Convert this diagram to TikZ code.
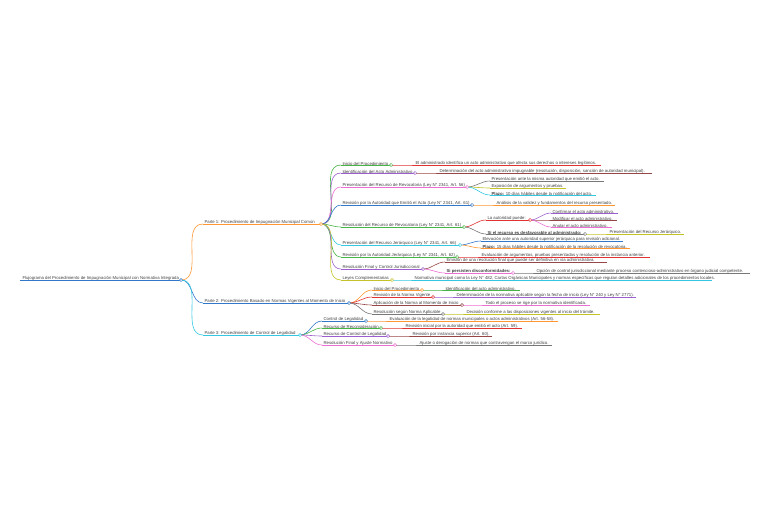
\documentclass[tikz,border=0pt]{standalone}
\usepackage{fontspec}
\setmainfont{Liberation Sans}
\begin{document}
\begin{tikzpicture}[x=1pt,y=-1pt]
\definecolor{cOr}{RGB}{255,150,50}
\definecolor{cBl}{RGB}{50,120,200}
\definecolor{cCy}{RGB}{50,200,225}
\definecolor{cGr}{RGB}{70,180,70}
\definecolor{cPu}{RGB}{155,95,205}
\definecolor{cBr}{RGB}{150,70,70}
\definecolor{cMa}{RGB}{235,110,210}
\definecolor{cGy}{RGB}{120,120,120}
\definecolor{cOl}{RGB}{195,195,40}
\definecolor{cRe}{RGB}{225,50,50}
\tikzset{txt/.style={font=\fontsize{4.3}{5}\selectfont,text=black!75,inner sep=0.3pt,anchor=south west},
 uline/.style={line width=0.9pt},
 conn/.style={line width=0.6pt},
 knob/.style={circle,fill=white,line width=0.5pt,inner sep=0,minimum size=3.2pt}}
\useasboundingbox (0,0) rectangle (768,511);
\newcommand\mroot[5]{% name x1 x2 y color text
 \coordinate (#1s) at (#2,#4); \coordinate (#1e) at (#3,#4);
 \draw[uline,#5] (#1s) -- (#1e);}
\newcommand\mnode[7]{% name parent x1 x2 y color text
 \coordinate (#1s) at (#3,#5); \coordinate (#1e) at (#4,#5);
 \draw[conn,#6] (#2e) to[out=0,in=180] (#1s);
 \draw[uline,#6] (#1s) -- (#1e);
 \node[txt] (#1t) at ([xshift=1pt,yshift=-1.2pt]#1s) {#7};}
\newcommand\knob[2]{\node[knob,draw=#2] at (#1e) {};}
% root
\mroot{r}{20}{181}{280}{cBl}
\node[txt] (rt) at ([xshift=2pt,yshift=-1.2pt]rs) {Flujograma del Procedimiento de Impugnación Municipal con Normativa Integrada};
% Part 1
\mnode{a}{r}{203}{321}{224}{cOr}{Parte 1: Procedimiento de Impugnación Municipal Común}
\mnode{a1}{a}{341}{391}{165}{cGr}{Inicio del Procedimiento}
\mnode{a1a}{a1}{414}{601}{165}{cRe}{El administrado identifica un acto administrativo que afecta sus derechos o intereses legítimos.}
\mnode{a2}{a}{341}{415}{173}{cPu}{Identificación del Acto Administrativo}
\mnode{a2a}{a2}{438}{652}{173}{cBr}{Determinación del acto administrativo impugnable (resolución, disposición, sanción de autoridad municipal).}
\mnode{a3}{a}{341}{467}{187}{cMa}{Presentación del Recurso de Revocatoria (Ley N° 2341, Art. 56)}
\mnode{a3a}{a3}{490}{604}{181}{cGy}{Presentación ante la misma autoridad que emitió el acto.}
\mnode{a3b}{a3}{490}{566}{188}{cOl}{Exposición de argumentos y pruebas.}
\mnode{a3c}{a3}{490}{596}{195}{cCy}{\textbf{Plazo:} 10 días hábiles desde la notificación del acto.}
\mnode{a4}{a}{341}{472}{205}{cBl}{Revisión por la Autoridad que Emitió el Acto (Ley N° 2341, Art. 61)}
\mnode{a4a}{a4}{495}{615}{205}{cOr}{Análisis de la validez y fundamentos del recurso presentado.}
\mnode{a5}{a}{341}{464}{227}{cGr}{Resolución del Recurso de Revocatoria (Ley N° 2341, Art. 61)}
\mnode{a5a}{a5}{486}{530}{220}{cRe}{La autoridad puede:}
\mnode{a5a1}{a5a}{551}{618}{213}{cPu}{Confirmar el acto administrativo.}
\mnode{a5a2}{a5a}{551}{617}{220}{cBr}{Modificar el acto administrativo.}
\mnode{a5a3}{a5a}{551}{612}{227}{cMa}{Anular el acto administrativo.}
\mnode{a5b}{a5}{486}{585}{234}{cGy}{\textbf{Si el recurso es desfavorable al administrado:}}
\mnode{a5b1}{a5b}{608}{684}{234}{cOl}{Presentación del Recurso Jerárquico.}
\mnode{a6}{a}{341}{460}{245}{cCy}{Presentación del Recurso Jerárquico (Ley N° 2341, Art. 66)}
\mnode{a6a}{a6}{481}{623}{241}{cBl}{Elevación ante una autoridad superior jerárquica para revisión adicional.}
\mnode{a6b}{a6}{481}{630}{248}{cOr}{\textbf{Plazo:} 15 días hábiles desde la notificación de la resolución de revocatoria.}
\mnode{a7}{a}{341}{457}{257}{cGr}{Revisión por la Autoridad Jerárquica (Ley N° 2341, Art. 62)}
\mnode{a7a}{a7}{480}{650}{257}{cRe}{Evaluación de argumentos, pruebas presentadas y resolución de la instancia anterior.}
\mnode{a8}{a}{341}{423}{269}{cPu}{Resolución Final y Control Jurisdiccional}
\mnode{a8a}{a8}{445}{607}{262}{cBr}{Emisión de una resolución final que puede ser definitiva en vía administrativa.}
\mnode{a8b}{a8}{445}{513}{273}{cMa}{\textbf{Si persisten disconformidades:}}
\mnode{a8b1}{a8b}{535}{750}{273}{cGy}{Opción de control jurisdiccional mediante proceso contencioso-administrativo en órgano judicial competente.}
\mnode{a9}{a}{341}{392}{280}{cOl}{Leyes Complementarias}
\mnode{a9a}{a9}{413}{712}{280}{cCy}{Normativa municipal como la Ley N° 482, Cartas Orgánicas Municipales y normas específicas que regulan detalles adicionales de los procedimientos locales.}
% Part 2
\mnode{b}{r}{203}{349}{303}{cBl}{Parte 2: Procedimiento Basado en Normas Vigentes al Momento de Inicio}
\mnode{b1}{b}{372}{422}{290}{cOr}{Inicio del Procedimiento}
\mnode{b1a}{b1}{444}{520}{290}{cGr}{Identificación del acto administrativo.}
\mnode{b2}{b}{372}{433}{297}{cRe}{Revisión de la Norma Vigente}
\mnode{b2a}{b2}{455}{636}{297}{cPu}{Determinación de la normativa aplicable según la fecha de inicio (Ley N° 240 y Ley N° 2771).}
\mnode{b3}{b}{372}{462}{305}{cBr}{Aplicación de la Norma al Momento de Inicio}
\mnode{b3a}{b3}{484}{590}{305}{cMa}{Todo el proceso se rige por la normativa identificada.}
\mnode{b4}{b}{372}{443}{314}{cGy}{Resolución según Norma Aplicable}
\mnode{b4a}{b4}{465}{600}{314}{cOl}{Decisión conforme a las disposiciones vigentes al inicio del trámite.}
% Part 3
\mnode{c}{r}{203}{300}{335}{cCy}{Parte 3: Procedimiento de Control de Legalidad}
\mnode{c1}{c}{322}{366}{321}{cBl}{Control de Legalidad}
\mnode{c1a}{c1}{388}{558}{321}{cOr}{Evaluación de la legalidad de normas municipales o actos administrativos (Art. 56-58).}
\mnode{c2}{c}{322}{381}{328}{cGr}{Recurso de Reconsideración}
\mnode{c2a}{c2}{404}{522}{328}{cRe}{Revisión inicial por la autoridad que emitió el acto (Art. 59).}
\mnode{c3}{c}{322}{388}{336}{cPu}{Recurso de Control de Legalidad}
\mnode{c3a}{c3}{411}{492}{336}{cBr}{Revisión por instancia superior (Art. 60).}
\mnode{c4}{c}{322}{395}{345}{cMa}{Resolución Final y Ajuste Normativo}
\mnode{c4a}{c4}{418}{552}{345}{cGy}{Ajuste o derogación de normas que contravengan el marco jurídico.}
% knobs
\knob{r}{cBl}\knob{a}{cOr}\knob{b}{cBl}\knob{c}{cCy}
\knob{a1}{cGr}\knob{a2}{cPu}\knob{a3}{cMa}\knob{a4}{cBl}\knob{a5}{cGr}
\knob{a5a}{cRe}\knob{a5b}{cGy}\knob{a6}{cCy}\knob{a7}{cGr}\knob{a8}{cPu}\knob{a8b}{cMa}\knob{a9}{cOl}
\knob{b1}{cOr}\knob{b2}{cRe}\knob{b3}{cBr}\knob{b4}{cGy}
\knob{c1}{cBl}\knob{c2}{cGr}\knob{c3}{cPu}\knob{c4}{cMa}
\end{tikzpicture}
\end{document}
